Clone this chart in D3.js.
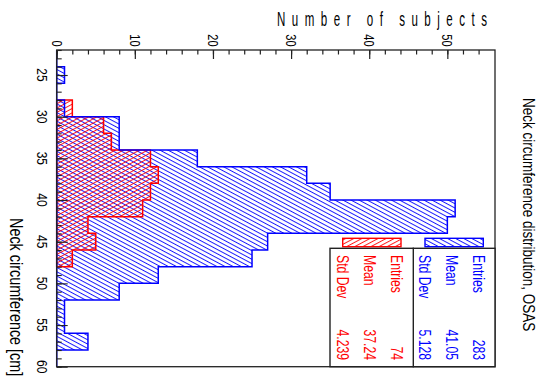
<!DOCTYPE html>
<html>
<head>
<meta charset="utf-8">
<script src="https://cdn.jsdelivr.net/npm/d3@7/dist/d3.min.js"></script>
<style>
  body { margin: 0; background: #fff; }
  text { font-family: "Liberation Sans", Arial, sans-serif; }
</style>
</head>
<body>
<script>
// neck circumference bins [cm], 2 cm wide
const binEdges = d3.range(22, 61, 2);
const osasCounts = [0, 1, 0, 1, 8, 8, 18, 32, 35, 51, 50, 27, 25, 13, 8, 1, 1, 4, 0];
const subsetCounts = [0, 0, 0, 2, 6, 7, 12, 13, 12, 11, 4, 5, 2, 0, 0, 0, 0, 0, 0];
const countTicks = [0, 10, 20, 30, 40, 50];
const countMinor = d3.range(0, 56, 2);
const neckTicks = [25, 30, 35, 40, 45, 50, 55, 60];
const neckMinor = d3.range(22, 61, 1);
const statsLabels = ['Entries', 'Mean', 'Std Dev'];
const osasStats = ['283', '41.05', '5.128'];
const subsetStats = ['74', '37.24', '4.239'];

const W = 550, H = 383;
const frame = { left: 56.7, right: 495, top: 50, bottom: 366.7 };
const blue = '#0000ff', red = '#ff0000';

const svg = d3.select('body').append('svg').attr('width', W).attr('height', H);

// hatch patterns
const defs = svg.append('defs');
function hatch(id, color, angle) {
  const p = defs.append('pattern')
    .attr('id', id)
    .attr('patternUnits', 'userSpaceOnUse')
    .attr('width', 10).attr('height', 3.8)
    .attr('patternTransform', `rotate(${angle})`);
  p.append('line')
    .attr('x1', 0).attr('x2', 10).attr('y1', 0.5).attr('y2', 0.5)
    .attr('stroke', color).attr('stroke-width', 0.9);
}
hatch('hBlue', blue, 28);
hatch('hRed', red, -28);

const x = d3.scaleLinear().domain([0, 56.1]).range([frame.left, frame.right]);
const y = d3.scaleLinear().domain([22, 60]).range([frame.top, frame.bottom]);

function stepPath(counts) {
  let first = counts.findIndex(c => c > 0);
  let last = counts.length - 1 - counts.slice().reverse().findIndex(c => c > 0);
  if (counts === osasCounts) { first = 0; last = counts.length - 1; }
  const pts = [[x(0), y(binEdges[first])]];
  for (let i = first; i <= last; i++) {
    pts.push([x(counts[i]), y(binEdges[i])]);
    pts.push([x(counts[i]), y(binEdges[i + 1])]);
  }
  pts.push([x(0), y(binEdges[last + 1])]);
  return 'M' + pts.map(p => p.join(',')).join('L') + 'Z';
}

// histograms
svg.append('path').attr('d', stepPath(osasCounts))
  .attr('fill', 'url(#hBlue)').attr('stroke', 'none');
svg.append('path').attr('d', stepPath(subsetCounts))
  .attr('fill', 'url(#hRed)').attr('stroke', red).attr('stroke-width', 1.5);
svg.append('path').attr('d', stepPath(osasCounts))
  .attr('fill', 'none').attr('stroke', blue).attr('stroke-width', 1.5);

// frame
svg.append('rect')
  .attr('x', frame.left).attr('y', frame.top)
  .attr('width', frame.right - frame.left).attr('height', frame.bottom - frame.top)
  .attr('fill', 'none').attr('stroke', '#222').attr('stroke-width', 1.3);

// count axis (top) — ticks point into the frame
const topAx = svg.append('g').attr('transform', `translate(0,${frame.top})`);
topAx.append('g').call(d3.axisTop(x).tickValues(countMinor).tickSize(-4.5).tickFormat(''));
topAx.append('g').call(d3.axisTop(x).tickValues(countTicks).tickSize(-9).tickFormat(''));
topAx.selectAll('.domain').remove();
topAx.selectAll('line').attr('stroke', '#222').attr('stroke-width', 1.2);

svg.selectAll('.cntLab').data(countTicks).join('text')
  .attr('class', 'cntLab')
  .attr('transform', d => `translate(${x(d) - 5},${frame.top - 3.5}) rotate(90) scale(1,1.25)`)
  .attr('text-anchor', 'end')
  .attr('font-size', 11)
  .text(d => d);

// neck axis (left)
const leftAx = svg.append('g').attr('transform', `translate(${frame.left},0)`);
leftAx.append('g').call(d3.axisLeft(y).tickValues(neckMinor).tickSize(-5).tickFormat(''));
leftAx.append('g').call(d3.axisLeft(y).tickValues(neckTicks).tickSize(-11).tickFormat(''));
leftAx.selectAll('.domain').remove();
leftAx.selectAll('line').attr('stroke', '#222').attr('stroke-width', 1.1);

svg.selectAll('.neckLab').data(neckTicks).join('text')
  .attr('class', 'neckLab')
  .attr('transform', d => `translate(36.8,${y(d)}) rotate(90) scale(1,1.17)`)
  .attr('text-anchor', 'middle')
  .attr('font-size', 12)
  .text(d => d);

// axis titles
svg.append('text')
  .attr('transform', 'translate(9.8,218) rotate(90) scale(1,1.25)')
  .attr('font-size', 14.4)
  .text('Neck circumference [cm]');

svg.append('g').attr('transform', 'translate(277,26) scale(0.55,1)')
  .append('text')
  .attr('font-size', 21)
  .attr('textLength', 210 / 0.55)
  .attr('lengthAdjust', 'spacing')
  .text('Number of subjects');

// title
svg.append('text')
  .attr('transform', 'translate(522.5,98) rotate(90) scale(1,1.2)')
  .attr('font-size', 13.5)
  .text('Neck circumference distribution, OSAS');

// stats boxes
function statsBox(x0, x1, color, values, hatchId, keyX0, keyX1) {
  const g = svg.append('g');
  g.append('rect')
    .attr('x', keyX0).attr('y', 238.3).attr('width', keyX1 - keyX0).attr('height', 8.4)
    .attr('fill', `url(#${hatchId})`).attr('stroke', color).attr('stroke-width', 1.4);
  g.append('rect')
    .attr('x', x0).attr('y', 248.3).attr('width', x1 - x0).attr('height', frame.bottom - 248.3)
    .attr('fill', '#fff').attr('stroke', '#222').attr('stroke-width', 1.4);
  const rowX = [x1 - 22, x1 - 49.5, x1 - 76.5];
  statsLabels.forEach((lab, i) => {
    g.append('text')
      .attr('transform', `translate(${rowX[i]},255) rotate(90) scale(1,1.4)`)
      .attr('font-size', 12.2).attr('fill', color)
      .text(lab);
    g.append('text')
      .attr('transform', `translate(${rowX[i]},360) rotate(90) scale(1,1.4)`)
      .attr('font-size', 12.2).attr('fill', color).attr('text-anchor', 'end')
      .text(values[i]);
  });
}
statsBox(413.3, 495, blue, osasStats, 'hBlue', 425, 483.3);
statsBox(330, 413.3, red, subsetStats, 'hRed', 342.7, 401);
</script>
</body>
</html>
